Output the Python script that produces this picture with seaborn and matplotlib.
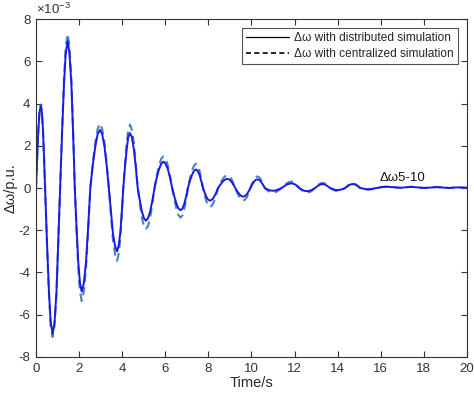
import seaborn as sns
import pandas as pd
import matplotlib.pyplot as plt

# time axis (s)
time_s = [
    0.00, 0.055, 0.11, 0.165, 0.22, 0.27, 0.32, 0.37,
    0.42, 0.51, 0.60, 0.68, 0.77, 0.86, 0.95, 1.03,
    1.12, 1.21, 1.30, 1.38, 1.47, 1.55, 1.64, 1.72,
    1.80, 1.88, 1.96, 2.04, 2.12, 2.22, 2.32, 2.42,
    2.52, 2.63, 2.75, 2.86, 2.97, 3.07, 3.18, 3.28,
    3.38, 3.48, 3.57, 3.67, 3.76, 3.83, 3.91, 3.98,
    4.05, 4.13, 4.21, 4.28, 4.36, 4.45, 4.54, 4.63,
    4.72, 4.82, 4.91, 5.01, 5.10, 5.20, 5.30, 5.40,
    5.50, 5.60, 5.71, 5.81, 5.91, 6.01, 6.12, 6.22,
    6.32, 6.42, 6.52, 6.61, 6.71, 6.80, 6.88, 6.97,
    7.05, 7.14, 7.24, 7.33, 7.42, 7.50, 7.59, 7.67,
    7.75, 7.83, 7.91, 7.99, 8.07, 8.17, 8.26, 8.36,
    8.45, 8.56, 8.67, 8.77, 8.88, 8.97, 9.07, 9.16,
    9.25, 9.34, 9.44, 9.53, 9.62, 9.70, 9.79, 9.87,
    9.95, 10.03, 10.11, 10.19, 10.27, 10.36, 10.45, 10.53,
    10.62, 10.71, 10.80, 10.89, 10.98, 11.09, 11.19, 11.30,
    11.40, 11.52, 11.63, 11.75, 11.86, 11.95, 12.04, 12.13,
    12.22, 12.31, 12.40, 12.49, 12.58, 12.67, 12.77, 12.86,
    12.95, 13.04, 13.12, 13.21, 13.30, 13.39, 13.47, 13.56,
    13.65, 13.74, 13.82, 13.91, 14.00, 14.09, 14.17, 14.26,
    14.35, 14.44, 14.52, 14.61, 14.70, 14.79, 14.87, 14.96,
    15.05, 15.14, 15.22, 15.31, 15.40, 15.50, 15.60, 15.70,
    15.80, 16.05, 16.30, 16.55, 16.90, 17.15, 17.40, 17.70,
    18.00, 18.30, 18.60, 18.90, 19.20, 19.40, 19.60, 19.80, 20.00,
]

# delta omega, distributed simulation (x1e-3 p.u.)
dw_distributed = [
    0, 1.5, 2.8, 3.6, 3.9, 3.6, 2.8, 1.5,
    0, -2.6, -4.9, -6.35, -6.9, -6.35, -4.9, -2.6,
    0, 2.65, 4.95, 6.4, 6.95, 6.4, 4.95, 2.65,
    0, -1.85, -3.5, -4.5, -4.9, -4.5, -3.5, -1.85,
    0, 1.05, 1.95, 2.55, 2.75, 2.55, 1.95, 1.05,
    0, -1.15, -2.15, -2.75, -3.0, -2.75, -2.15, -1.15,
    0, 1.0, 1.85, 2.4, 2.6, 2.4, 1.85, 1.0,
    0, -0.6, -1.1, -1.43, -1.55, -1.43, -1.1, -0.6,
    0, 0.48, 0.89, 1.15, 1.25, 1.15, 0.89, 0.48,
    0, -0.4, -0.75, -0.97, -1.05, -0.97, -0.75, -0.4,
    0, 0.33, 0.62, 0.81, 0.88, 0.81, 0.62, 0.33,
    0, -0.23, -0.43, -0.55, -0.6, -0.55, -0.43, -0.23,
    0, 0.16, 0.31, 0.4, 0.43, 0.4, 0.31, 0.16,
    0, -0.16, -0.29, -0.38, -0.41, -0.38, -0.29, -0.16,
    0, 0.16, 0.29, 0.38, 0.41, 0.38, 0.29, 0.16,
    0, -0.05, -0.09, -0.12, -0.13, -0.12, -0.09, -0.05,
    0, 0.08, 0.16, 0.2, 0.22, 0.2, 0.16, 0.08,
    0, -0.06, -0.11, -0.14, -0.15, -0.14, -0.11, -0.06,
    0, 0.07, 0.13, 0.17, 0.19, 0.17, 0.13, 0.07,
    0, -0.04, -0.07, -0.09, -0.10, -0.09, -0.07, -0.04,
    0, 0.07, 0.13, 0.17, 0.19, 0.17, 0.13, 0.07,
    0, -0.02, -0.04, -0.055, -0.06, -0.055, -0.04, -0.02,
    0, 0.04, 0.06, 0.04, 0.01, 0.03, 0.05, 0.03,
    0.0, 0.02, 0.04, 0.02, 0.0, 0.02, 0.03, 0.02, 0.01,
]

# delta omega, centralized simulation (x1e-3 p.u.)
dw_centralized = [
    0, 1.5, 2.8, 3.65, 3.95, 3.65, 2.8, 1.5,
    0, -2.7, -5.0, -6.5, -7.05, -6.5, -5.0, -2.7,
    0, 2.75, 5.2, 6.7, 7.3, 6.7, 5.2, 2.75,
    0, -2.0, -3.8, -4.9, -5.35, -4.9, -3.8, -2.0,
    0, 1.15, 2.15, 2.8, 3.05, 2.8, 2.15, 1.15,
    0, -1.3, -2.45, -3.15, -3.45, -3.15, -2.45, -1.3,
    0, 1.15, 2.15, 2.75, 3.0, 2.75, 2.15, 1.15,
    0, -0.75, -1.4, -1.8, -1.95, -1.8, -1.4, -0.75,
    0, 0.57, 1.07, 1.38, 1.5, 1.38, 1.07, 0.57,
    0, -0.53, -1.0, -1.29, -1.4, -1.29, -1.0, -0.53,
    0, 0.44, 0.82, 1.06, 1.15, 1.06, 0.82, 0.44,
    0, -0.34, -0.64, -0.83, -0.9, -0.83, -0.64, -0.34,
    0, 0.23, 0.43, 0.55, 0.6, 0.55, 0.43, 0.23,
    0, -0.23, -0.43, -0.55, -0.6, -0.55, -0.43, -0.23,
    0, 0.21, 0.39, 0.5, 0.55, 0.5, 0.39, 0.21,
    0, -0.08, -0.16, -0.2, -0.22, -0.2, -0.16, -0.08,
    0, 0.11, 0.21, 0.28, 0.3, 0.28, 0.21, 0.11,
    0, -0.08, -0.16, -0.2, -0.22, -0.2, -0.16, -0.08,
    0, 0.09, 0.17, 0.22, 0.24, 0.22, 0.17, 0.09,
    0, -0.05, -0.1, -0.13, -0.14, -0.13, -0.1, -0.05,
    0, 0.08, 0.16, 0.2, 0.22, 0.2, 0.16, 0.08,
    0, -0.03, -0.06, -0.07, -0.08, -0.07, -0.06, -0.03,
    0, 0.05, 0.07, 0.05, 0.01, 0.04, 0.06, 0.04,
    0.0, 0.03, 0.05, 0.03, 0.0, 0.02, 0.03, 0.02, 0.01,
]

x_ticks = [0, 2, 4, 6, 8, 10, 12, 14, 16, 18, 20]
y_ticks = [-8, -6, -4, -2, 0, 2, 4, 6, 8]
legend_labels = ['Δω with distributed simulation', 'Δω with centralized simulation']

sns.set_style('ticks')
plt.rcParams['font.family'] = ['Liberation Sans', 'DejaVu Sans']
plt.rcParams['mathtext.fontset'] = 'custom'
plt.rcParams['mathtext.rm'] = 'Liberation Sans'
plt.rcParams['mathtext.it'] = 'Liberation Sans'

df = pd.DataFrame({'t': time_s, 'dist': dw_distributed, 'cent': dw_centralized})

fig = plt.figure(figsize=(4.74, 3.96), dpi=100)
ax = fig.add_axes([0.076, 0.0985, 0.909, 0.8535])

sns.lineplot(data=df, x='t', y='cent', ax=ax, color='#4a7fc0', lw=1.5,
             linestyle=(0, (4, 2.5)), sort=False, legend=False)
sns.lineplot(data=df, x='t', y='dist', ax=ax, color='#1a1ae6', lw=1.4,
             sort=False, legend=False)

ax.set_xlim(0, 20)
ax.set_ylim(-8, 8)
ax.set_xticks(x_ticks)
ax.set_yticks(y_ticks)
ax.set_xticklabels([str(v) for v in x_ticks])
ax.set_yticklabels([str(v) for v in y_ticks])
ax.tick_params(direction='in', length=4, width=0.8, colors='#333333',
               labelsize=9.5, top=True, right=True, pad=4)
for s in ax.spines.values():
    s.set_visible(True)
    s.set_color('#333333')
    s.set_linewidth(0.8)

ax.set_xlabel('Time/s', fontsize=10.5, labelpad=1, color='#262626')
ax.set_ylabel('Δω/p.u.', fontsize=10.5, labelpad=1, color='#262626')
ax.text(0.0, 1.005, r'$\times10^{-3}$', transform=ax.transAxes, fontsize=9.5,
        ha='left', va='bottom', color='#333333')
ax.text(15.95, 0.47, 'Δω5-10', fontsize=9.5, va='center', color='#111111')

h1, = ax.plot([], [], color='black', lw=0.9)
h2, = ax.plot([], [], color='black', lw=1.2, linestyle=(0, (3, 2)))
leg = ax.legend([h1, h2], legend_labels, loc='upper right', fontsize=8.6,
                frameon=True, fancybox=False, borderpad=0.35, handlelength=3.6,
                handletextpad=0.4, labelspacing=0.3, borderaxespad=0.75)
leg.get_frame().set_edgecolor('#262626')
leg.get_frame().set_linewidth(0.8)

fig.savefig('out.png', dpi=100)
